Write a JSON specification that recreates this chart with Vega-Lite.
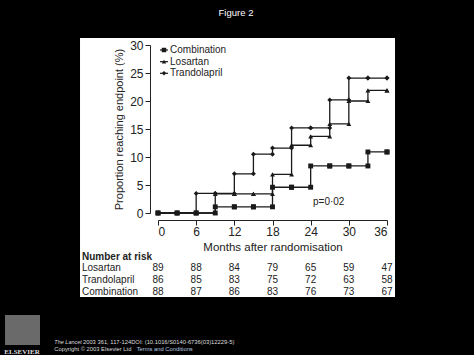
{
  "$schema": "https://vega.github.io/schema/vega-lite/v6.json",
  "width": 229,
  "height": 168,
  "autosize": {"type": "none"},
  "padding": {"left": 158, "top": 45, "right": 87, "bottom": 142},
  "background": "black",
  "config": {
    "view": {"stroke": null},
    "font": "Liberation Sans",
    "axis": {"labelFont": "Liberation Sans", "titleFont": "Liberation Sans", "grid": false, "zindex": 1, "labelOverlap": false, "labelBound": false}
  },
  "datasets": {
    "curves": [
      {"series": "Combination", "month": 0, "value": 0, "prev": 0},
      {"series": "Combination", "month": 3, "value": 0, "prev": 0},
      {"series": "Combination", "month": 6, "value": 0, "prev": 0},
      {"series": "Combination", "month": 9, "value": 1.1, "prev": 0},
      {"series": "Combination", "month": 12, "value": 1.1, "prev": 1.1},
      {"series": "Combination", "month": 15, "value": 1.1, "prev": 1.1},
      {"series": "Combination", "month": 18, "value": 4.6, "prev": 1.1},
      {"series": "Combination", "month": 21, "value": 4.6, "prev": 4.6},
      {"series": "Combination", "month": 24, "value": 8.4, "prev": 4.6},
      {"series": "Combination", "month": 27, "value": 8.4, "prev": 8.4},
      {"series": "Combination", "month": 30, "value": 8.4, "prev": 8.4},
      {"series": "Combination", "month": 33, "value": 10.9, "prev": 8.4},
      {"series": "Combination", "month": 36, "value": 10.9, "prev": 10.9},
      {"series": "Losartan", "month": 0, "value": 0, "prev": 0},
      {"series": "Losartan", "month": 3, "value": 0, "prev": 0},
      {"series": "Losartan", "month": 6, "value": 0, "prev": 0},
      {"series": "Losartan", "month": 9, "value": 3.4, "prev": 0},
      {"series": "Losartan", "month": 12, "value": 3.4, "prev": 3.4},
      {"series": "Losartan", "month": 15, "value": 3.4, "prev": 3.4},
      {"series": "Losartan", "month": 18, "value": 6.9, "prev": 3.4},
      {"series": "Losartan", "month": 21, "value": 12.1, "prev": 6.9},
      {"series": "Losartan", "month": 24, "value": 13.7, "prev": 12.1},
      {"series": "Losartan", "month": 27, "value": 15.9, "prev": 13.7},
      {"series": "Losartan", "month": 30, "value": 20.0, "prev": 15.9},
      {"series": "Losartan", "month": 33, "value": 21.9, "prev": 20.0},
      {"series": "Losartan", "month": 36, "value": 21.9, "prev": 21.9},
      {"series": "Trandolapril", "month": 0, "value": 0, "prev": 0},
      {"series": "Trandolapril", "month": 3, "value": 0, "prev": 0},
      {"series": "Trandolapril", "month": 6, "value": 3.5, "prev": 0},
      {"series": "Trandolapril", "month": 9, "value": 3.5, "prev": 3.5},
      {"series": "Trandolapril", "month": 12, "value": 7.0, "prev": 3.5},
      {"series": "Trandolapril", "month": 15, "value": 10.5, "prev": 7.0},
      {"series": "Trandolapril", "month": 18, "value": 11.6, "prev": 10.5},
      {"series": "Trandolapril", "month": 21, "value": 15.2, "prev": 11.6},
      {"series": "Trandolapril", "month": 24, "value": 15.2, "prev": 15.2},
      {"series": "Trandolapril", "month": 27, "value": 20.2, "prev": 15.2},
      {"series": "Trandolapril", "month": 30, "value": 24.1, "prev": 20.2},
      {"series": "Trandolapril", "month": 33, "value": 24.1, "prev": 24.1},
      {"series": "Trandolapril", "month": 36, "value": 24.1, "prev": 24.1}
    ],
    "risk": [
      {"group": "Losartan", "month": 0, "n": 89},
      {"group": "Losartan", "month": 6, "n": 88},
      {"group": "Losartan", "month": 12, "n": 84},
      {"group": "Losartan", "month": 18, "n": 79},
      {"group": "Losartan", "month": 24, "n": 65},
      {"group": "Losartan", "month": 30, "n": 59},
      {"group": "Losartan", "month": 36, "n": 47},
      {"group": "Trandolapril", "month": 0, "n": 86},
      {"group": "Trandolapril", "month": 6, "n": 85},
      {"group": "Trandolapril", "month": 12, "n": 83},
      {"group": "Trandolapril", "month": 18, "n": 75},
      {"group": "Trandolapril", "month": 24, "n": 72},
      {"group": "Trandolapril", "month": 30, "n": 63},
      {"group": "Trandolapril", "month": 36, "n": 58},
      {"group": "Combination", "month": 0, "n": 88},
      {"group": "Combination", "month": 6, "n": 87},
      {"group": "Combination", "month": 12, "n": 86},
      {"group": "Combination", "month": 18, "n": 83},
      {"group": "Combination", "month": 24, "n": 76},
      {"group": "Combination", "month": 30, "n": 73},
      {"group": "Combination", "month": 36, "n": 67}
    ],
    "series": [
      {"series": "Combination"},
      {"series": "Losartan"},
      {"series": "Trandolapril"}
    ]
  },
  "layer": [
    {
      "layer": [
        {
          "data": {"values": [{}]},
          "mark": {"type": "rect", "fill": "white"},
          "encoding": {
            "x": {
              "datum": -12.26, "type": "quantitative",
              "scale": {"domain": [0, 36], "nice": false, "zero": false},
              "axis": {
                "title": "Months after randomisation",
                "values": [0, 6, 12, 18, 24, 30, 36],
                "labelOverlap": false, "labelBound": false, "tickCount": 7,
                "offset": 7, "tickSize": 5, "labelPadding": 1, "titlePadding": 4,
                "labelFontSize": 12, "titleFontSize": 11.5, "titleFontWeight": "normal",
                "domainColor": "#222", "tickColor": "#222", "labelColor": "#222", "titleColor": "#222", "zindex": 1
              }
            },
            "x2": {"datum": 37.26},
            "y": {
              "datum": 31.25, "type": "quantitative",
              "scale": {"domain": [0, 30], "nice": false, "zero": false},
              "axis": {
                "title": "Proportion reaching endpoint (%)",
                "values": [0, 5, 10, 15, 20, 25, 30],
                "labelOverlap": false, "labelBound": false, "tickCount": 7,
                "offset": 8, "tickSize": 5, "labelPadding": 2, "titlePadding": 5,
                "labelFontSize": 12, "titleFontSize": 11, "titleFontWeight": "normal",
                "domainColor": "#222", "tickColor": "#222", "labelColor": "#222", "titleColor": "#222", "zindex": 1
              }
            },
            "y2": {"datum": -15}
          }
        },
        {
          "data": {"name": "curves"},
          "mark": {"type": "line", "interpolate": "step-after", "stroke": "#1a1a1a", "strokeWidth": 1.3},
          "encoding": {
            "x": {"field": "month", "type": "quantitative"},
            "y": {"field": "value", "type": "quantitative"},
            "detail": {"field": "series"}
          }
        },
        {
          "data": {"name": "curves"},
          "mark": {"type": "point", "filled": true, "color": "#1a1a1a", "opacity": 1, "size": 24},
          "encoding": {
            "x": {"field": "month", "type": "quantitative"},
            "y": {"field": "prev", "type": "quantitative"},
            "shape": {"field": "series", "type": "nominal", "legend": null,
              "scale": {"domain": ["Combination", "Losartan", "Trandolapril"], "range": ["square", "triangle-up", "diamond"]}}
          }
        },
        {
          "data": {"name": "curves"},
          "mark": {"type": "point", "filled": true, "color": "#1a1a1a", "opacity": 1, "size": 24},
          "encoding": {
            "x": {"field": "month", "type": "quantitative"},
            "y": {"field": "value", "type": "quantitative"},
            "shape": {"field": "series", "type": "nominal", "legend": null}
          }
        },
        {
          "data": {"values": [{"label": "p=0·02"}]},
          "mark": {"type": "text", "align": "left", "baseline": "middle", "fontSize": 10, "color": "#222"},
          "encoding": {
            "x": {"datum": 24.37, "type": "quantitative"},
            "y": {"datum": 1.91, "type": "quantitative"},
            "text": {"field": "label"}
          }
        },
        {
          "data": {"values": [{"label": "Figure 2"}]},
          "mark": {"type": "text", "align": "center", "baseline": "middle", "fontSize": 9.5, "color": "white"},
          "encoding": {
            "x": {"datum": 12.26, "type": "quantitative"},
            "y": {"datum": 35.71, "type": "quantitative"},
            "text": {"field": "label"}
          }
        },
        {
          "data": {"values": [{}]},
          "mark": {"type": "rect", "fill": "#6a6a6a"},
          "encoding": {
            "x": {"datum": -24.05, "type": "quantitative"},
            "x2": {"datum": -18.55},
            "y": {"datum": -18.21, "type": "quantitative"},
            "y2": {"datum": -23.57}
          }
        },
        {
          "data": {"values": [{"label": "ELSEVIER"}]},
          "mark": {"type": "text", "align": "center", "baseline": "middle", "fontSize": 7, "font": "Liberation Serif", "fontWeight": "bold", "color": "#ddd"},
          "encoding": {
            "x": {"datum": -21.38, "type": "quantitative"},
            "y": {"datum": -24.82, "type": "quantitative"},
            "text": {"field": "label"}
          }
        },
        {
          "data": {"values": [{"label": "The Lancet"}]},
          "mark": {"type": "text", "align": "left", "baseline": "middle", "fontSize": 5.5, "fontStyle": "italic", "color": "#ddd"},
          "encoding": {
            "x": {"datum": -16.3, "type": "quantitative"},
            "y": {"datum": -23.04, "type": "quantitative"},
            "text": {"field": "label"}
          }
        },
        {
          "data": {"values": [{"label": "2003 361, 117-124DOI: (10.1016/S0140-6736(03)12229-5)"}]},
          "mark": {"type": "text", "align": "left", "baseline": "middle", "fontSize": 5.8, "color": "#ddd"},
          "encoding": {
            "x": {"datum": -11.8, "type": "quantitative"},
            "y": {"datum": -23.04, "type": "quantitative"},
            "text": {"field": "label"}
          }
        },
        {
          "data": {"values": [{"label": "Copyright © 2003 Elsevier Ltd"}]},
          "mark": {"type": "text", "align": "left", "baseline": "middle", "fontSize": 5.8, "color": "#ddd"},
          "encoding": {
            "x": {"datum": -16.3, "type": "quantitative"},
            "y": {"datum": -24.29, "type": "quantitative"},
            "text": {"field": "label"}
          }
        },
        {
          "data": {"values": [{"label": "Terms and Conditions"}]},
          "mark": {"type": "text", "align": "left", "baseline": "middle", "fontSize": 5.8, "color": "#b8c8e0"},
          "encoding": {
            "x": {"datum": -3.35, "type": "quantitative"},
            "y": {"datum": -24.29, "type": "quantitative"},
            "text": {"field": "label"}
          }
        }
      ]
    },
    {
      "data": {"name": "series"},
      "layer": [
        {
          "mark": {"type": "rule", "stroke": "#1a1a1a", "strokeWidth": 1.2},
          "encoding": {
            "x": {"datum": 0.31, "type": "quantitative"},
            "x2": {"datum": 1.57},
            "y": {"field": "series", "type": "nominal", "axis": null,
              "scale": {"type": "point", "domain": ["Combination", "Losartan", "Trandolapril"], "range": [5, 28.3], "padding": 0}}
          }
        },
        {
          "mark": {"type": "point", "filled": true, "color": "#1a1a1a", "opacity": 1, "size": 20},
          "encoding": {
            "x": {"datum": 0.94, "type": "quantitative"},
            "y": {"field": "series", "type": "nominal", "axis": null},
            "shape": {"field": "series", "type": "nominal", "legend": null}
          }
        },
        {
          "mark": {"type": "text", "align": "left", "baseline": "middle", "fontSize": 10, "color": "#222"},
          "encoding": {
            "x": {"datum": 1.89, "type": "quantitative"},
            "y": {"field": "series", "type": "nominal", "axis": null},
            "text": {"field": "series"}
          }
        }
      ]
    },
    {
      "data": {"name": "risk"},
      "layer": [
        {
          "mark": {"type": "text", "align": "center", "baseline": "middle", "fontSize": 10, "color": "#222"},
          "encoding": {
            "x": {"field": "month", "type": "quantitative"},
            "y": {"field": "group", "type": "nominal", "axis": null,
              "scale": {"type": "point", "domain": ["Number at risk", "Losartan", "Trandolapril", "Combination"], "range": [211.7, 247], "padding": 0}},
            "text": {"field": "n"}
          }
        },
        {
          "transform": [{"aggregate": [], "groupby": ["group"]}],
          "mark": {"type": "text", "align": "left", "baseline": "middle", "fontSize": 10, "color": "#222"},
          "encoding": {
            "x": {"datum": -11.95, "type": "quantitative"},
            "y": {"field": "group", "type": "nominal", "axis": null},
            "text": {"field": "group"}
          }
        },
        {
          "data": {"values": [{"group": "Number at risk"}]},
          "mark": {"type": "text", "align": "left", "baseline": "middle", "fontSize": 10, "fontWeight": "bold", "color": "#222"},
          "encoding": {
            "x": {"datum": -11.95, "type": "quantitative"},
            "y": {"field": "group", "type": "nominal", "axis": null},
            "text": {"field": "group"}
          }
        }
      ]
    }
  ],
  "resolve": {"scale": {"y": "independent"}}
}
